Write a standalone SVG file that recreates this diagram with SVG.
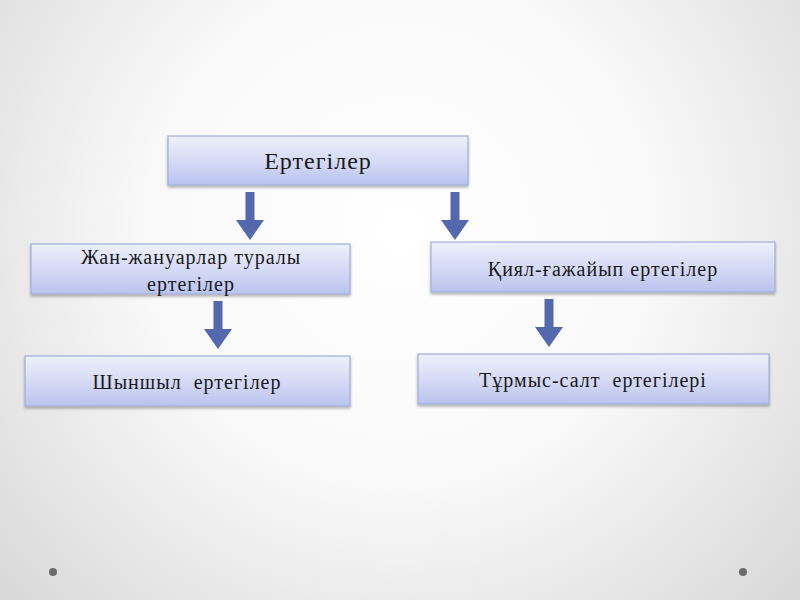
<svg xmlns="http://www.w3.org/2000/svg" width="800" height="600" viewBox="0 0 800 600">
<defs>
<radialGradient id="bg" cx="400" cy="230" r="560" gradientUnits="userSpaceOnUse">
<stop offset="0" stop-color="#ffffff"/>
<stop offset="0.45" stop-color="#f9f9f9"/>
<stop offset="1" stop-color="#d6d6d6"/>
</radialGradient>
<linearGradient id="box" x1="0" y1="0" x2="0" y2="1">
<stop offset="0" stop-color="#eef0fb"/>
<stop offset="0.5" stop-color="#d6dbf5"/>
<stop offset="1" stop-color="#b9c3ee"/>
</linearGradient>
<filter id="sh" x="-10%" y="-20%" width="120%" height="160%">
<feGaussianBlur in="SourceAlpha" stdDeviation="1.5"/>
<feOffset dx="0" dy="2" result="b"/>
<feComponentTransfer><feFuncA type="linear" slope="0.3"/></feComponentTransfer>
<feMerge><feMergeNode/><feMergeNode in="SourceGraphic"/></feMerge>
</filter>
<path id="arr" d="M-4.5,0 H4.5 V28 H14 L0,48 L-14,28 H-4.5 Z"/>
</defs>
<style>
.node rect{fill:url(#box);stroke:#a3aed6;stroke-width:1.2;filter:url(#sh)}
.node text{font-family:"Liberation Serif","DejaVu Serif",serif;fill:#1a1a1a;text-anchor:middle;letter-spacing:1px;white-space:pre}
.arrow{fill:#5468ad}
</style>
<rect width="800" height="600" fill="url(#bg)"/>
<circle cx="53" cy="572" r="4" fill="#6a6a6a"/>
<circle cx="743" cy="572" r="4" fill="#6a6a6a"/>
<g id="connectors">
<use href="#arr" class="arrow" x="250" y="192"/>
<use href="#arr" class="arrow" x="455" y="192"/>
<use href="#arr" class="arrow" x="218" y="301"/>
<use href="#arr" class="arrow" x="549" y="299"/>
</g>
<g id="n-root" class="node">
<rect x="168" y="136" width="300" height="49"/>
<text x="318" y="169" font-size="24">Ертегілер</text>
</g>
<g id="n-animals" class="node">
<rect x="31" y="244" width="319" height="50"/>
<text x="191" y="264" font-size="20">Жан-жануарлар туралы</text>
<text x="191" y="291" font-size="20">ертегілер</text>
</g>
<g id="n-fantasy" class="node">
<rect x="431" y="242" width="344" height="50"/>
<text x="603" y="276" font-size="20">Қиял-ғажайып ертегілер</text>
</g>
<g id="n-realistic" class="node">
<rect x="25" y="356" width="325" height="50"/>
<text x="187" y="389" font-size="20">Шыншыл  ертегілер</text>
</g>
<g id="n-everyday" class="node">
<rect x="418" y="354" width="351" height="50"/>
<text x="593" y="387" font-size="20">Тұрмыс-салт  ертегілері</text>
</g>
</svg>
